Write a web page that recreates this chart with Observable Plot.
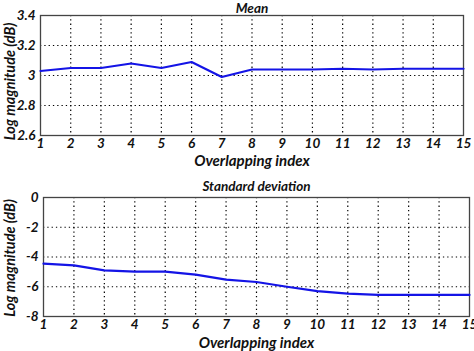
<!DOCTYPE html>
<html><head>
<meta charset="utf-8">
<script src="https://cdn.jsdelivr.net/npm/d3@7"></script>
<script src="https://cdn.jsdelivr.net/npm/@observablehq/plot@0.6"></script>
<style>
body{margin:0;background:#fff}
#c{width:474px;height:351px;position:relative;overflow:hidden}
svg{display:block;overflow:visible}
</style>
</head><body><div id="c"></div>
<script>
const overlapIndex = [1,2,3,4,5,6,7,8,9,10,11,12,13,14,15];
const meanValues = [3.03,3.05,3.05,3.08,3.05,3.09,2.99,3.04,3.04,3.04,3.045,3.04,3.045,3.045,3.045];
const stdValues = [-4.45,-4.56,-4.9,-4.98,-4.98,-5.19,-5.52,-5.68,-6.0,-6.3,-6.46,-6.55,-6.55,-6.55,-6.55];
const meanTicks = [2.6,2.8,3,3.2,3.4];
const stdTicks = [-8,-6,-4,-2,0];
const xTicks = overlapIndex;
const titles = ["Mean","Standard deviation"];
const xLabel = "Overlapping index";
const yLabel = "Log magnitude (dB)";

const FONT = "Lato, 'Open Sans', sans-serif";

function panel(values, yDomain, yTicks, title, g) {
  const data = overlapIndex.map((x,i)=>({x, y: values[i]}));
  const txt = {fontWeight: "bold", fontStyle: "italic", fill: "#111", lineAnchor: "middle", textAnchor: "middle"};
  return Plot.plot({
    width: 474, height: g.height,
    marginTop: g.mt, marginBottom: g.mb, marginLeft: g.ml, marginRight: g.mr,
    style: {fontFamily: FONT, background: "#fff", overflow: "visible"},
    x: {domain: [1,15], ticks: xTicks},
    y: {domain: yDomain, ticks: yTicks},
    marks: [
      Plot.gridX(xTicks.slice(1,-1), {stroke: "#000", strokeOpacity: 1, strokeWidth: 1.2, strokeDasharray: "1.3,3"}),
      Plot.gridY(yTicks.slice(1,-1), {stroke: "#000", strokeOpacity: 1, strokeWidth: 1.2, strokeDasharray: "1.3,3"}),
      Plot.frame({stroke: "#444", strokeWidth: 1.3}),
      Plot.axisX(xTicks, {tickSize: 0, tickPadding: 3, fontSize: 13.5, fontWeight: "bold", fontStyle: "italic", fill: "#111", tickFormat: d => String(d), label: null}),
      Plot.axisY(yTicks, {tickSize: 0, tickPadding: 5, fontSize: 13.5, fontWeight: "bold", fontStyle: "italic", fill: "#111", tickFormat: d => String(d), label: null}),
      Plot.line(data, {x: "x", y: "y", stroke: "#1414e6", strokeWidth: 2.2}),
      Plot.text([title], {...txt, frameAnchor: "top", dy: g.titleDy, fontSize: 13.5}),
      Plot.text([xLabel], {...txt, frameAnchor: "bottom", dy: g.xlDy, fontSize: 15}),
      Plot.text([yLabel], {...txt, frameAnchor: "left", dx: g.ylDx, dy: g.ylDy, rotate: -90, fontSize: 14.5})
    ]
  });
}

const c = document.getElementById("c");
c.appendChild(panel(meanValues, [2.6,3.4], meanTicks, titles[0],
  {height: 175, mt: 15, mb: 40, ml: 40, mr: 11, titleDy: -7, xlDy: 26, ylDx: -30, ylDy: 6}));
c.appendChild(panel(stdValues, [-8,0], stdTicks, titles[1],
  {height: 176, mt: 22, mb: 35, ml: 43, mr: 5, titleDy: -11, xlDy: 27, ylDx: -33, ylDy: 1}));
</script>
</body></html>
